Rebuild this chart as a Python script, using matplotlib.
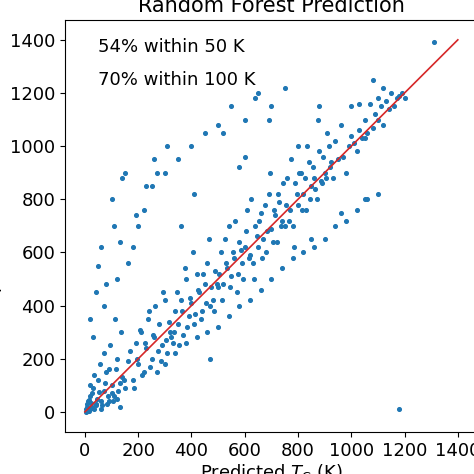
import matplotlib
matplotlib.use("Agg")
import matplotlib.pyplot as plt

# Predicted Tc (K)
pred_tc = [5, 10, 15, 20, 25, 30, 40, 50, 60, 70, 80, 90, 100, 110, 120, 130, 140, 150,
           8, 12, 18, 22, 28, 35, 45, 55, 65, 75, 85, 95, 105, 115, 125, 135, 145, 160,
           3, 6, 9, 14, 19, 24, 33, 42, 52, 62, 72, 82, 92, 102, 112, 122, 132, 170,
           180, 190, 200, 210, 220, 230, 240, 250, 260, 270, 280, 290, 300, 310, 320,
           185, 195, 205, 215, 225, 235, 245, 255, 265, 275, 285, 295, 305, 315, 325,
           330, 340, 350, 360, 370, 380, 390, 400, 410, 420, 430, 440, 450, 460, 470,
           335, 345, 355, 365, 375, 385, 395, 405, 415, 425, 435, 445, 455, 465, 475,
           480, 490, 500, 510, 520, 530, 540, 550, 560, 570, 580, 590, 600, 610, 620,
           485, 495, 505, 515, 525, 535, 545, 555, 565, 575, 585, 595, 605, 615, 625,
           630, 640, 650, 660, 670, 680, 690, 700, 710, 720, 730, 740, 750, 760, 770,
           635, 645, 655, 665, 675, 685, 695, 705, 715, 725, 735, 745, 755, 765, 775,
           780, 790, 800, 810, 820, 830, 840, 850, 860, 870, 880, 890, 900, 910, 920,
           785, 795, 805, 815, 825, 835, 845, 855, 865, 875, 885, 895, 905, 915, 925,
           930, 940, 950, 960, 970, 980, 990, 1000, 1010, 1020, 1030, 1040, 1050, 1060,
           1070, 1080, 1090, 1100, 1110, 1120, 1130, 1140, 1150, 1160, 1170, 1180, 1190,
           40, 60, 100, 120, 150, 200, 250, 300, 350, 400, 450, 500, 550, 600, 650, 700,
           20, 50, 80, 110, 140, 180, 220, 260, 300, 340, 380, 420, 460, 500, 540, 580,
           620, 660, 700, 740, 780, 820, 860, 900, 940, 980, 1020, 1060, 1100, 1200, 1310,
           30, 70, 130, 160, 190, 230, 270, 310, 360, 410, 470, 520, 580, 640, 690, 750,
           800, 850, 880, 960, 1000, 1050, 1080, 1120, 1180, 600, 1030, 1100, 1050, 1160]
# Experimental Tc (K)
exp_tc = [10, 40, 5, 60, 20, 90, 30, 120, 10, 80, 150, 40, 100, 60, 200, 20, 130, 90,
          30, 5, 100, 15, 70, 10, 50, 180, 25, 110, 60, 250, 40, 160, 80, 300, 120, 190,
          0, 20, 8, 45, 12, 35, 140, 25, 75, 40, 220, 30, 160, 70, 350, 50, 110, 230,
          120, 260, 180, 300, 150, 240, 380, 200, 280, 150, 330, 250, 420, 220, 300,
          90, 200, 310, 140, 260, 350, 170, 290, 400, 230, 190, 450, 270, 340, 280,
          260, 380, 330, 420, 290, 500, 360, 410, 330, 520, 450, 380, 480, 560, 400,
          300, 450, 250, 380, 540, 320, 430, 600, 370, 460, 350, 520, 410, 650, 470,
          420, 530, 470, 600, 480, 560, 700, 510, 580, 450, 640, 560, 620, 760, 590,
          380, 480, 520, 420, 650, 540, 470, 600, 720, 520, 610, 500, 680, 580, 800,
          560, 700, 620, 750, 650, 600, 820, 690, 760, 640, 790, 720, 700, 880, 760,
          500, 660, 720, 580, 780, 680, 900, 640, 740, 820, 700, 860, 780, 720, 950,
          700, 860, 780, 900, 820, 760, 940, 850, 880, 800, 980, 860, 900, 1050, 920,
          620, 820, 900, 760, 880, 1000, 800, 920, 840, 1100, 870, 960, 880, 1000, 940,
          880, 1020, 950, 1080, 960, 900, 1000, 1150, 1010, 980, 1060, 1030, 1100, 1050,
          1160, 1070, 1120, 1100, 1150, 1080, 1170, 1140, 1200, 1150, 1180, 1190, 1200,
          450, 620, 800, 500, 900, 700, 850, 900, 950, 1000, 1050, 1080, 1150, 1100, 1200, 1150,
          350, 550, 480, 700, 880, 620, 760, 950, 180, 220, 260, 280, 300, 320, 360, 400,
          420, 460, 500, 540, 580, 600, 620, 650, 700, 720, 760, 800, 820, 1180, 1390,
          280, 400, 640, 560, 740, 850, 900, 1000, 700, 820, 200, 1050, 920, 1180, 1100,
          1220, 1000, 650, 1150, 750, 1040, 800, 1250, 1220, 10, 960, 1160, 1180, 1030]

line_x = [0, 1400]
line_y = [0, 1400]

# keep only complete pairs
n = min(len(pred_tc), len(exp_tc))
pred_tc = pred_tc[:n]
exp_tc = exp_tc[:n]

fig = plt.figure(figsize=(4.74, 4.74), dpi=100)
ax = fig.add_axes([0.137, 0.089, 0.871, 0.869])
ax.scatter(pred_tc, exp_tc, s=7, color='#1f77b4', zorder=2)
ax.plot(line_x, line_y, color='#d62728', lw=1.2, zorder=3)
ax.set_xlim(-75, 1475)
ax.set_ylim(-75, 1475)
ax.set_xticks(range(0, 1401, 200))
ax.set_yticks(range(0, 1401, 200))
ax.tick_params(labelsize=13)
ax.set_xlabel('Predicted $T_{\\rm C}$ (K)', fontsize=13, labelpad=2)
ax.set_ylabel('Experimental $T_{\\rm C}$ (K)', fontsize=13)
ax.set_title('Random Forest Prediction', fontsize=15)
ax.text(0.08, 0.955, '54% within 50 K', transform=ax.transAxes, fontsize=13, va='top')
ax.text(0.08, 0.875, '70% within 100 K', transform=ax.transAxes, fontsize=13, va='top')
fig.savefig('out.png', dpi=100)
